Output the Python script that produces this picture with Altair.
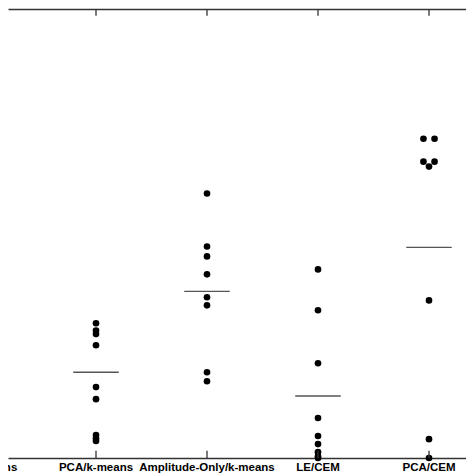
import altair as alt
import pandas as pd

categories = ["LE/k-means", "PCA/k-means", "Amplitude-Only/k-means",
              "LE/CEM", "PCA/CEM", "Amplitude-Only/CEM"]

pca_km = [30.0, 28.4, 27.6, 25.1, 15.8, 13.1, 5.1, 4.4, 3.8]
amp_km = [58.9, 47.1, 44.9, 40.9, 35.8, 34.0, 19.1, 17.1]
le_cem = [42.0, 32.9, 21.1, 8.9, 4.9, 3.1, 1.3, 0.4, 0.0]
pca_cem = [71.1, 71.1, 66.0, 66.0, 64.9, 35.1, 4.2, 0.0]
pca_cem_spread = [-1, 1, -1, 1, 0, 0, 0, 0]

means = [10.0, 19.1, 37.1, 13.8, 46.9]

rows = []
for idx, vals, spread in [(1, pca_km, None), (2, amp_km, None),
                          (3, le_cem, None), (4, pca_cem, pca_cem_spread)]:
    for k, v in enumerate(vals):
        rows.append({"idx": idx, "value": v,
                     "spread": spread[k] if spread else 0})
dots = pd.DataFrame(rows)
mean_df = pd.DataFrame({"idx": list(range(len(means))), "mean": means})
cat_df = pd.DataFrame({"idx": list(range(len(categories))),
                       "label": categories})

W = 458
H = 449
xscale = alt.Scale(domain=[0.2072, 0.2072 + W / 111.0], nice=False, zero=False)
yscale = alt.Scale(domain=[0, 100], nice=False, zero=True)

points = alt.Chart(dots).transform_calculate(
    xpos="datum.idx + datum.spread * 0.05"
).mark_circle(size=44, color="black", opacity=1).encode(
    x=alt.X("xpos:Q", scale=xscale,
            axis=alt.Axis(orient="bottom", labels=False, ticks=False,
                          grid=False, domainColor="#333", domainWidth=1.3,
                          title=None)),
    y=alt.Y("value:Q", scale=yscale, axis=None),
)

mean_lines = alt.Chart(mean_df).transform_calculate(
    x1="datum.idx - 0.205", x2="datum.idx + 0.205"
).mark_rule(color="#555", strokeWidth=1.4).encode(
    x=alt.X("x1:Q", scale=xscale, axis=None),
    x2="x2:Q",
    y=alt.Y("mean:Q", scale=yscale, axis=None),
)

bottom_ticks = alt.Chart(cat_df).mark_rule(color="#333", strokeWidth=1.3).encode(
    x=alt.X("idx:Q", scale=xscale, axis=None),
    y=alt.Y(datum=0, scale=yscale, axis=None),
    y2=alt.Y2(datum=1.6),
)

top_ticks = alt.Chart(cat_df).mark_rule(color="#333", strokeWidth=1.3).encode(
    x=alt.X("idx:Q", scale=xscale,
            axis=alt.Axis(orient="top", labels=False, ticks=False, grid=False,
                          domainColor="#333", domainWidth=1.3, title=None)),
    y=alt.Y(datum=100, scale=yscale, axis=None),
    y2=alt.Y2(datum=98.5),
)

labels = alt.Chart(cat_df).mark_text(
    font="Liberation Sans", fontWeight="bold", fontSize=11.5, color="black",
    align="center", baseline="top", dy=4
).encode(
    x=alt.X("idx:Q", scale=xscale, axis=None),
    y=alt.Y(datum=0, scale=yscale, axis=None),
    text="label:N",
)

chart = alt.layer(points, mean_lines, bottom_ticks, top_ticks, labels).resolve_axis(
    x="independent"
).properties(
    width=W, height=H, background="white",
    autosize=alt.AutoSizeParams(type="none"),
    padding={"left": 0, "right": 0, "top": 1, "bottom": 16},
).configure_view(stroke="transparent", strokeWidth=0).configure_axis(grid=False)

chart.save("out.html", embed_options={"renderer": "svg", "actions": False})
